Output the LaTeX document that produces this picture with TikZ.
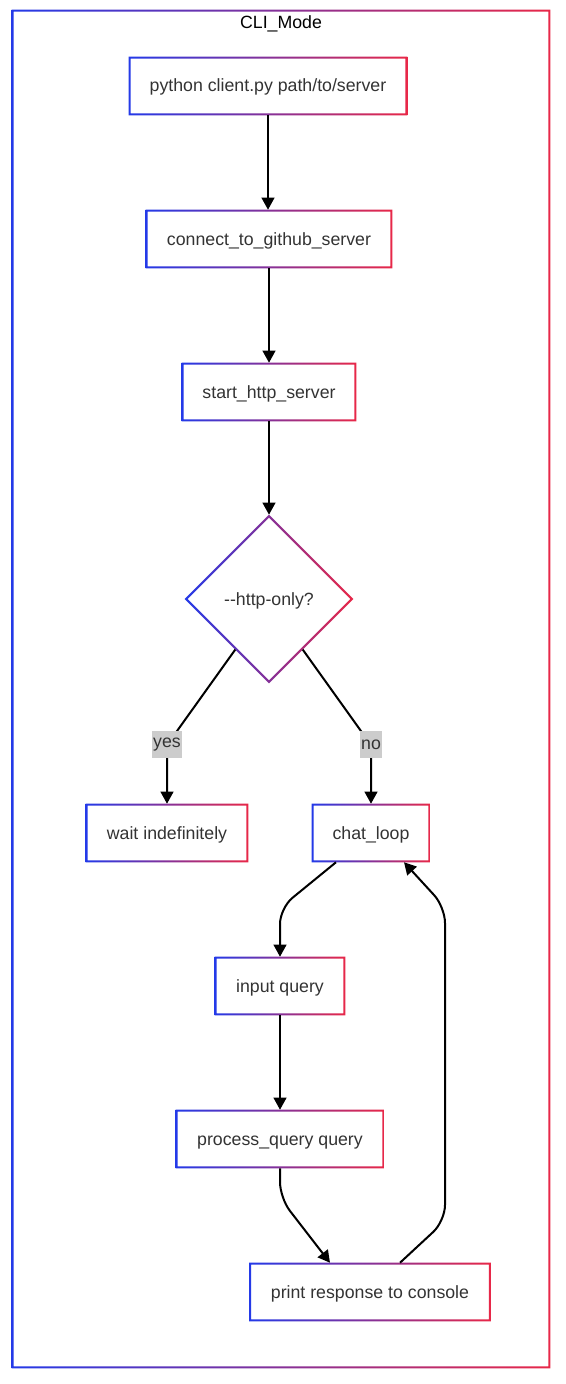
\documentclass[tikz,border=0pt]{standalone}
\usepackage{fontspec}
\setmainfont{Liberation Sans}[Ligatures=ResetAll]
\usetikzlibrary{shapes.geometric,arrows.meta,calc}
\definecolor{cblue}{RGB}{36,58,232}
\definecolor{cred}{RGB}{232,40,72}
\definecolor{txt}{RGB}{51,51,51}
\definecolor{lblbg}{RGB}{204,204,204}
\newcommand\gradrect[1]{\shade[left color=cblue,right color=cred,even odd rule] (#1.south west) rectangle (#1.north east) ([shift={(1.5pt,1.5pt)}]#1.south west) rectangle ([shift={(-1.5pt,-1.5pt)}]#1.north east);}
\newcommand\graddiam[1]{\shade[left color=cblue,right color=cred,even odd rule] (#1.north) -- (#1.east) -- (#1.south) -- (#1.west) -- cycle ([yshift=-2.1pt]#1.north) -- ([xshift=-2.1pt]#1.east) -- ([yshift=2.1pt]#1.south) -- ([xshift=2.1pt]#1.west) -- cycle;}
\begin{document}
\begin{tikzpicture}[x=0.75pt,y=-0.75pt,
 font=\fontsize{13.3pt}{16pt}\selectfont,
 box/.style={rectangle, fill=white, text=txt, inner sep=0pt, minimum height=43.5pt, text height=10.5pt, text depth=1.5pt},
 arr/.style={line width=1.5pt, -{Triangle[length=9pt,width=9.5pt]}},
 lbl/.style={fill=lblbg, text=txt, inner xsep=1.2pt, inner ysep=0pt, minimum height=20pt}]
\useasboundingbox (0,0) rectangle (566,1384);
% frame
\node[rectangle, fill=white, inner sep=0pt, minimum width=403.5pt, minimum height=1018.5pt] (frame) at (281,689) {};
\gradrect{frame}
\node[text=black] (title) at (281,23.5) {CLI\_Mode};
% nodes
\node[box, minimum width=208.5pt] (b1) at (268,86) {python client.py path/to/server};
\node[box, minimum width=184.5pt] (b2) at (269,239) {connect\_to\_github\_server};
\node[box, minimum width=130.5pt] (b3) at (269,392) {start\_http\_server};
\node[diamond, aspect=1, minimum width=126pt, minimum height=126pt, fill=white, inner sep=0pt, text=txt, text height=10.5pt, text depth=1.5pt] (dec) at (269,599) {{-}{-}http-only?};
\node[box, minimum width=121.5pt] (wait) at (167,833) {wait indefinitely};
\node[box, minimum width=88.5pt] (chat) at (371,833) {chat\_loop};
\node[box, minimum width=97.5pt] (input) at (280,986) {input query};
\node[box, minimum width=156pt] (proc) at (280,1139) {process\_query query};
\node[box, minimum width=180.75pt] (print) at (370,1292) {print response to console};
\foreach \n in {b1,b2,b3,wait,chat,input,proc,print}{\gradrect{\n}}
\graddiam{dec}
% edges
\draw[arr] (b1.south) -- (b1.south |- b2.north);
\draw[arr] (b2) -- (b3);
\draw[arr] (b3) -- (dec);
\draw[arr] ($(dec.west)!0.6!(dec.south)$) -- (167,745) -- (wait.north);
\draw[arr] ($(dec.east)!0.6!(dec.south)$) -- (371,745) -- (chat.north);
\node[lbl] (lyes) at (167,744.5) {yes};
\node[lbl] (lno) at (371,744.5) {no};
\draw[arr, rounded corners=12pt] ([xshift=-26.25pt]chat.south) -- (280,908) -- (input.north);
\draw[arr] (input) -- (proc);
\draw[arr, rounded corners=12pt] (proc.south) -- (280,1198) -- ([xshift=-30pt]print.north);
\draw[arr, rounded corners=12pt] ([xshift=22.5pt]print.north) -- (445,1221) -- (445,907) -- ([xshift=24.75pt]chat.south);
\end{tikzpicture}
\end{document}
